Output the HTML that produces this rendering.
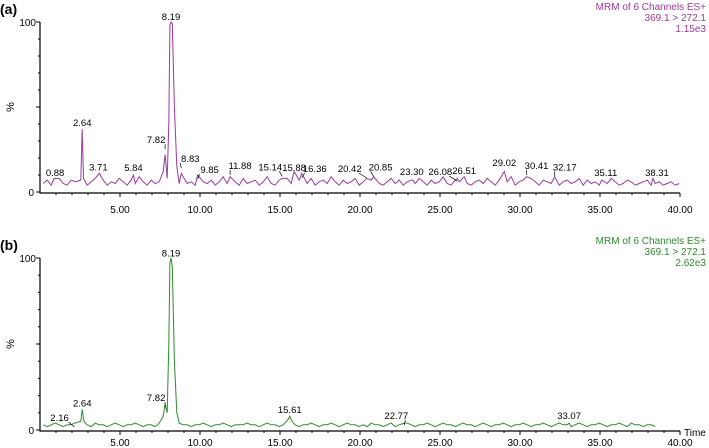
<!DOCTYPE html>
<html><head><meta charset="utf-8"><style>
html,body{margin:0;padding:0;background:#fff;}
svg{display:block;font-family:"Liberation Sans",sans-serif;}
</style></head><body>
<svg id="chart" width="709" height="448" viewBox="0 0 709 448"></svg>
<script>
// ---- data ----
const baseTimesStart = 0.2, baseStep = 0.25;
const topBaseline = [5,7,4,6,8,5,4,7,6,9,5,4,6,8,5,7,4,6,5,8,6,4,7,5,9,6,4,7,5,6,
 8,4,6,7,5,9,5,6,4,8,6,5,7,4,6,9,5,7,6,4,8,5,6,7,4,6,9,5,4,7,
 6,8,5,4,7,6,5,8,4,6,7,5,9,6,4,7,5,6,8,4,6,5,7,9,5,4,6,8,5,7,
 4,6,7,5,8,6,4,7,5,6,9,5,4,7,6,8,5,4,6,7,5,8,6,4,7,5,6,9,4,6,
 7,5,8,6,4,7,6,5,8,4,6,7,5,6,8,4,7,5,6,4,7,5,8,6,4,5,7,6,4,5,6,7,4,5,6,4,5,6,4,5];
const topPeakTimes = [0.88,2.55,2.64,2.72,3.71,5.84,7.7,7.82,7.95,8.05,8.12,8.19,8.27,8.4,8.55,8.83,9.85,11.88,15.14,15.88,16.36,20.42,20.85,23.30,26.08,26.51,29.02,30.41,32.17,35.11,38.31];
const topPeakValues = [8,7,37,8,11,10,12,22,8,40,98,100,99,50,15,11,10,9,8,12,11,8,9,7,8,9,12,9,9,7,8];
const topLabelTimes = [0.88,2.64,3.71,5.84,7.82,8.19,8.83,9.85,11.88,15.14,15.88,16.36,20.42,20.85,23.30,26.08,26.51,29.02,30.41,32.17,35.11,38.31];
const topLabelLevels = [7.6,37,11,10.5,27,99.4,15.8,9.4,11.7,11,10.5,10,10,11,8.2,8.2,8.8,13.5,11.7,11,7.6,7.6];
const topLabelDx = [1,0,-1,0,-9,0,9,12,10,-12,0,13,-17,7,-1,-17,0,0,10,10,4,4];
const botBaseline = [3,2,3,4,3,2,3,3,4,2,3,3,2,4,3,3,2,3,4,3,2,3,3,4,3,2,3,3,2,4,
 3,3,2,3,4,3,3,2,3,3,4,3,2,3,3,4,3,2,3,3,3,4,3,3,2,3,4,3,3,2,
 3,4,3,3,2,3,3,4,3,2,3,3,4,3,2,3,4,3,3,2,3,2,4,3,3,2,3,4,2,3,
 3,4,3,2,3,3,4,3,2,3,4,3,3,2,3,4,3,3,2,3,4,3,2,3,3,4,3,2,3,3,
 4,3,2,3,3,4,3,2,3,4,3,3,2,3,4,3,2,3,3,4,3,2,3,3,4,3,2,4,3,3,2,3,3,2];
const botPeakTimes = [2.16,2.55,2.64,2.75,7.7,7.82,7.95,8.05,8.12,8.19,8.27,8.4,8.55,15.5,15.61,15.75,22.77,33.07];
const botPeakValues = [4,5,12,5,8,15,10,50,97,100,95,40,10,6,8,5,4,4];
const botLabelTimes = [2.16,2.64,7.82,8.19,15.61,22.77,33.07];
const botLabelLevels = [3.5,12,15,99,8,4.6,4.6];
const botLabelDx = [-15,0,-9,0,0,-8,0];
const xTicks = ["5.00","10.00","15.00","20.00","25.00","30.00","35.00","40.00"];
const xTickVals = [5,10,15,20,25,30,35,40];

const NS="http://www.w3.org/2000/svg";
const svg=document.getElementById('chart');
function mk(tag,attrs,parent){const e=document.createElementNS(NS,tag);for(const k in attrs)e.setAttribute(k,attrs[k]);(parent||svg).appendChild(e);return e;}
const xs = t => 40 + t*16;

function panel(cfg){
  const g=mk('g',{});
  
  
  const ys = v => cfg.y0 - v*(cfg.y0-cfg.y100)/100;
  const ax=mk('path',{d:`M40 ${cfg.y100} L40 ${cfg.y0+1} L680 ${cfg.y0+1}`,stroke:'#000',fill:'none','stroke-width':1.2},g);
   
  for(let v=0;v<=100;v+=10){mk('line',{x1:40-(v%50==0?4:2),x2:40,y1:ys(v),y2:ys(v),stroke:'#000'},g);}
  for(let t=1;t<=40;t++){mk('line',{x1:xs(t),x2:xs(t),y1:cfg.y0+1,y2:cfg.y0+(t%5==0?5:3),stroke:'#000'},g);}
  xTicks.forEach((s,i)=>{const tx=mk('text',{x:xs(xTickVals[i]),y:cfg.y0+cfg.tickDy,'font-size':10,'text-anchor':'middle'},g);tx.textContent=s;
     });
  const t100=mk('text',{x:36,y:ys(100)+4,'font-size':10,'text-anchor':'end'},g);t100.textContent='100';
   
  const t0=mk('text',{x:34,y:cfg.y0+4,'font-size':10,'text-anchor':'end'},g);t0.textContent='0';
   
  const pc=mk('text',{x:0,y:0,'font-size':11,'text-anchor':'middle',transform:`translate(14 ${(cfg.y0+cfg.y100)/2}) rotate(-90)`},g);pc.textContent='%';
   
  const pl=mk('text',{x:0,y:cfg.y100-8,'font-size':14,'font-weight':'bold'},g);pl.textContent=cfg.panelLabel;
   
  cfg.header.forEach((s,i)=>{const h=mk('text',{x:706,y:cfg.hy+i*11,'font-size':10,'text-anchor':'end',fill:cfg.color},g);h.textContent=s;
     });
  let pts=cfg.base.map((v,i)=>[baseTimesStart+i*baseStep,v]);
  pts=pts.filter(p=>!cfg.pt.some(t=>Math.abs(t-p[0])<0.1));
  cfg.pt.forEach((t,i)=>pts.push([t,cfg.pv[i]]));
  pts.sort((a,b)=>a[0]-b[0]);
  const line=mk('polyline',{points:pts.map(p=>xs(p[0]).toFixed(1)+','+ys(p[1]).toFixed(1)).join(' '),fill:'none',stroke:cfg.color,'stroke-width':1},g);
   
  cfg.lt.forEach((t,i)=>{
    const dx=cfg.ldx[i], ly=ys(cfg.ll[i])-3;
    const l=mk('text',{x:xs(t)+dx,y:ly,'font-size':9.5,'text-anchor':'middle'},g);l.textContent=t.toFixed(2);
     
    if(Math.abs(dx)>5){
      const sx=xs(t)+dx+(dx<0?9:-10);
      const ld=mk('line',{x1:sx,y1:ly+1,x2:xs(t),y2:ly+6,stroke:'#000','stroke-width':0.7},g);
       
    }
  });
}
panel({name:'panel-a',y0:192,y100:22,color:'#9b3b9b',panelLabel:'(a)',hy:10,tickDy:21,header:['MRM of 6 Channels ES+','369.1 > 272.1','1.15e3'],
  base:topBaseline,pt:topPeakTimes,pv:topPeakValues,lt:topLabelTimes,ll:topLabelLevels,ldx:topLabelDx});
panel({name:'panel-b',y0:430,y100:258,color:'#2e8b2e',panelLabel:'(b)',hy:244,tickDy:16,header:['MRM of 6 Channels ES+','369.1 > 272.1','2.62e3'],
  base:botBaseline,pt:botPeakTimes,pv:botPeakValues,lt:botLabelTimes,ll:botLabelLevels,ldx:botLabelDx});
const tm=mk('text',{x:684,y:436,'font-size':10});tm.textContent='Time';
 
</script>
</body></html>
